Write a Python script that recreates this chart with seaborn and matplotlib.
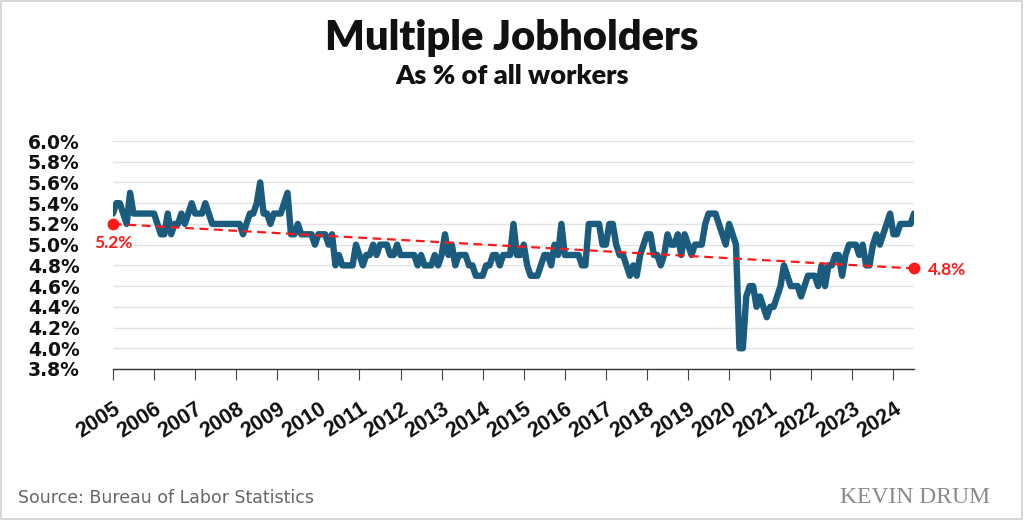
import numpy as np
import pandas as pd
import matplotlib
matplotlib.use("Agg")
import matplotlib.pyplot as plt
import seaborn as sns
from matplotlib.patches import Rectangle

# ---- data (monthly, % of employed holding multiple jobs) ----
r2005 = [5.3, 5.4, 5.4, 5.3, 5.2, 5.5, 5.3, 5.3, 5.3, 5.3, 5.3, 5.3]
r2006 = [5.3, 5.2, 5.1, 5.1, 5.3, 5.1, 5.2, 5.2, 5.3, 5.2, 5.3, 5.4]
r2007 = [5.3, 5.3, 5.3, 5.4, 5.3, 5.2, 5.2, 5.2, 5.2, 5.2, 5.2, 5.2]
r2008 = [5.2, 5.2, 5.1, 5.2, 5.3, 5.3, 5.4, 5.6, 5.3, 5.3, 5.2, 5.3]
r2009 = [5.3, 5.3, 5.4, 5.5, 5.1, 5.1, 5.2, 5.1, 5.1, 5.1, 5.1, 5.0]
r2010 = [5.1, 5.1, 5.1, 5.0, 5.1, 4.8, 4.9, 4.8, 4.8, 4.8, 4.8, 5.0]
r2011 = [4.9, 4.8, 4.9, 4.9, 5.0, 4.9, 5.0, 5.0, 5.0, 4.9, 4.9, 5.0]
r2012 = [4.9, 4.9, 4.9, 4.9, 4.9, 4.8, 4.9, 4.8, 4.8, 4.8, 4.9, 4.8]
r2013 = [4.9, 5.1, 4.9, 5.0, 4.8, 4.9, 4.9, 4.9, 4.8, 4.8, 4.7, 4.7]
r2014 = [4.7, 4.8, 4.8, 4.9, 4.9, 4.8, 4.9, 4.9, 4.9, 5.2, 4.9, 4.9]
r2015 = [5.0, 4.8, 4.7, 4.7, 4.7, 4.8, 4.9, 4.9, 4.8, 5.0, 4.9, 5.2]
r2016 = [4.9, 4.9, 4.9, 4.9, 4.9, 4.8, 4.8, 5.2, 5.2, 5.2, 5.2, 5.0]
r2017 = [5.0, 5.2, 5.2, 5.0, 4.9, 4.9, 4.8, 4.7, 4.8, 4.7, 4.9, 5.0]
r2018 = [5.1, 5.1, 4.9, 4.9, 4.8, 4.9, 5.1, 5.0, 5.0, 5.1, 4.9, 5.1]
r2019 = [5.0, 4.9, 5.0, 5.0, 5.0, 5.2, 5.3, 5.3, 5.3, 5.2, 5.1, 5.0]
r2020 = [5.2, 5.1, 5.0, 4.0, 4.0, 4.5, 4.6, 4.6, 4.4, 4.5, 4.4, 4.3]
r2021 = [4.4, 4.4, 4.5, 4.6, 4.8, 4.7, 4.6, 4.6, 4.6, 4.5, 4.6, 4.7]
r2022 = [4.7, 4.7, 4.6, 4.8, 4.6, 4.8, 4.8, 4.9, 4.9, 4.7, 4.9, 5.0]
r2023 = [5.0, 5.0, 4.9, 5.0, 4.8, 4.8, 5.0, 5.1, 5.0, 5.1, 5.2, 5.3]
r2024 = [5.1, 5.1, 5.2, 5.2, 5.2, 5.2, 5.3]

years = list(range(2005, 2025))
year_labels = [str(y) for y in years]
y_ticks = [3.8, 4.0, 4.2, 4.4, 4.6, 4.8, 5.0, 5.2, 5.4, 5.6, 5.8, 6.0]
trend_values = [5.2, 4.77]
trend_labels = ["5.2%", "4.8%"]

values = (r2005 + r2006 + r2007 + r2008 + r2009 + r2010 + r2011 + r2012 + r2013 +
          r2014 + r2015 + r2016 + r2017 + r2018 + r2019 + r2020 + r2021 + r2022 +
          r2023 + r2024)
df = pd.DataFrame({"t": 2005 + np.arange(len(values)) / 12.0, "rate": values})
t_end = df["t"].iloc[-1]

sns.set_theme(style="white")
HEAD = ["Lato", "DejaVu Sans"]
plt.rcParams["font.family"] = HEAD

fig = plt.figure(figsize=(10.24, 5.2), dpi=100)
ax = fig.add_axes([0.1103, 0.2904, 0.7823, 0.4384])

BLUE = "#1b5c7e"
RED = "#ff1a1a"

for v in y_ticks:
    ax.axhline(v, color="#e3e3e3", lw=1.0, zorder=0)

sns.lineplot(data=df, x="t", y="rate", ax=ax, color=BLUE, lw=4.6,
             solid_joinstyle="round", solid_capstyle="round", zorder=3)

trend_df = pd.DataFrame({"t": [2005.0, t_end], "v": trend_values})
sns.lineplot(data=trend_df, x="t", y="v", ax=ax, color=RED, lw=1.6,
             dashes=False, linestyle=(0, (4, 2.5)), zorder=4)
ax.plot(trend_df["t"], trend_df["v"], "o", color=RED, ms=7.5, zorder=5, clip_on=False)
ax.text(2005 - 0.45, trend_values[0] - 0.18, trend_labels[0], color=RED,
        fontsize=12.5, fontweight="bold", ha="left", va="center", family=HEAD)
ax.text(t_end + 0.35, trend_values[1] - 0.01, trend_labels[1], color=RED,
        fontsize=12.5, fontweight="bold", ha="left", va="center", family=HEAD,
        clip_on=False)

ax.set_xlim(2005, t_end)
ax.set_ylim(3.8, 6.0)
ax.set_xlabel("")
ax.set_ylabel("")

ax.set_yticks(y_ticks)
ax.set_yticklabels([f"{v:.1f}%" for v in y_ticks], fontsize=13.5, fontweight="bold",
                   color="#111111", family=["DejaVu Sans"])
ax.tick_params(axis="y", length=0, pad=24)

ax.set_xticks(years)
ax.set_xticklabels(year_labels, rotation=33, ha="right", rotation_mode="anchor",
                   fontsize=15.5, fontweight="bold", color="#111111",
                   family=["Liberation Sans", "DejaVu Sans"])
ax.tick_params(axis="x", length=8, width=0.8, color="#444444", pad=13, direction="out",
               bottom=True)

for s in ["left", "right", "top"]:
    ax.spines[s].set_visible(False)
ax.spines["bottom"].set_color("#333333")
ax.spines["bottom"].set_linewidth(1.0)
ax.spines["bottom"].set_zorder(6)

fig.text(0.5, 0.926, "Multiple Jobholders", ha="center", va="center",
         fontsize=30, fontweight="heavy", color="#111111")
fig.text(0.5, 0.853, "As % of all workers", ha="center", va="center",
         fontsize=19.5, fontweight="heavy", color="#111111")

fig.text(0.018, 0.043, "Source: Bureau of Labor Statistics", ha="left", va="center",
         fontsize=12.5, color="#666666", family=["DejaVu Sans"])
fig.text(0.967, 0.043, "KEVIN DRUM", ha="right", va="center", fontsize=17,
         color="#8a8a8a", family=["Liberation Serif", "DejaVu Serif"])

fig.patches.append(Rectangle((0.0005, 0.001), 0.998, 0.997, transform=fig.transFigure,
                             fill=False, edgecolor="#d0d0d0", lw=1.2))

fig.savefig("out.png", dpi=100, facecolor="white")
